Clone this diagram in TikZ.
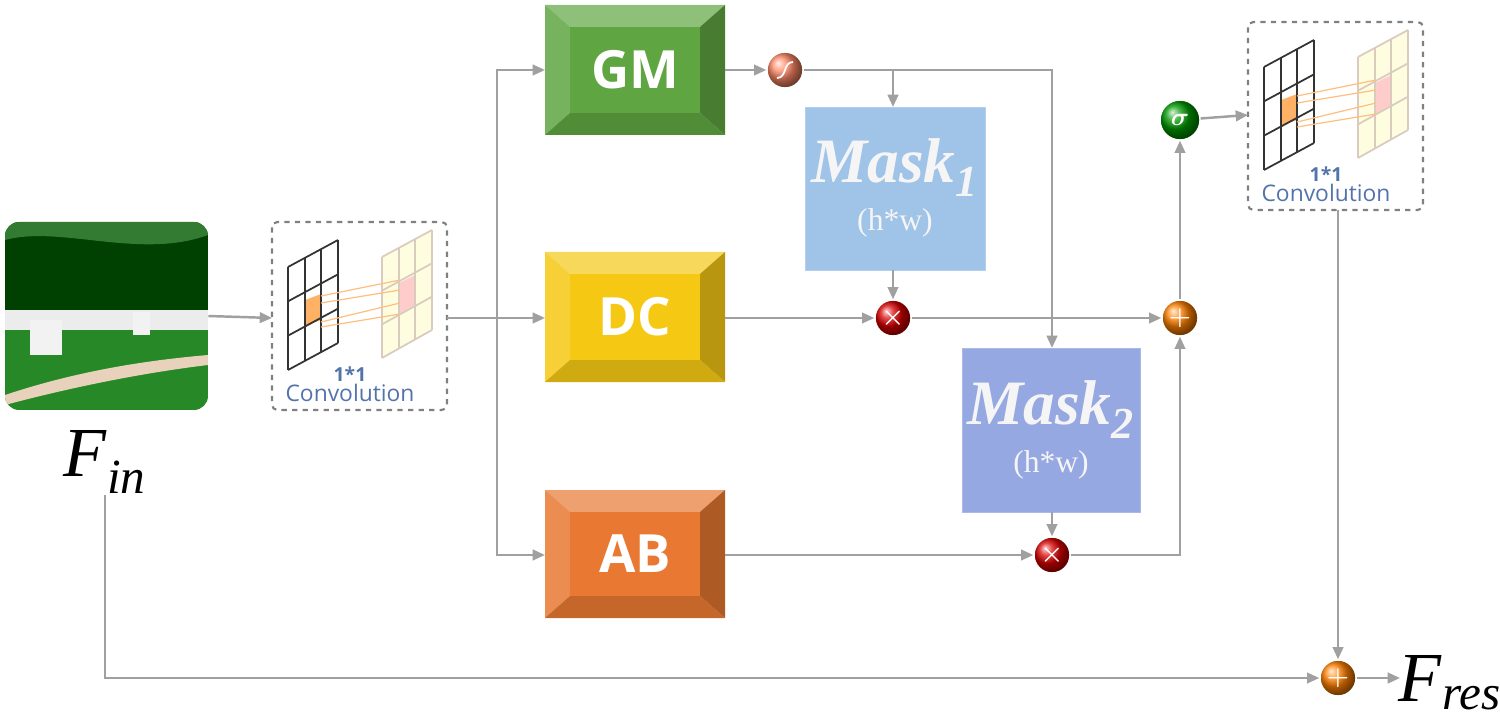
\documentclass[tikz,border=0pt]{standalone}
\usepackage{amsmath}
\usepackage{fontspec}
\setmainfont{Liberation Serif}
\newfontfamily\sansf{Open Sans}
\usetikzlibrary{arrows.meta,calc}
\definecolor{ln}{RGB}{160,160,160}
\definecolor{convblue}{RGB}{40,80,150}
\definecolor{gmc}{RGB}{95,165,65}
\definecolor{dcc}{RGB}{245,200,20}
\definecolor{abc}{RGB}{232,120,50}
\definecolor{mk1}{RGB}{160,195,232}
\definecolor{mk2}{RGB}{150,168,225}
\tikzset{
  conn/.style={draw=ln,line width=1.4pt,-{Triangle[length=7pt,width=6pt]}},
  plain/.style={draw=ln,line width=1.4pt},
  lbl/.style={font=\sansf\bfseries\fontsize{30}{30}\selectfont,text=white},
  masktxt/.style={align=center,text=white!92!gray},
  ball/.style={circle,minimum size=0.72cm,inner sep=0pt,draw=white,line width=0.8pt},
}
\newcommand{\bevbox}[7]{% name x1 y1 x2 y2 color text
  \fill[#6!35!white] (#2,#3) rectangle (#4,#5);
  \fill[#6!70!white] (#2,#3) -- (#4,#3) -- ($(#4,#3)+(-25,22)$) -- ($(#2,#3)+(25,22)$) -- cycle;
  \fill[#6!85!white] (#2,#3) -- ($(#2,#3)+(25,22)$) -- ($(#2,#5)+(25,-22)$) -- (#2,#5) -- cycle;
  \fill[#6!75!black] (#4,#3) -- ($(#4,#3)+(-25,22)$) -- ($(#4,#5)+(-25,-22)$) -- (#4,#5) -- cycle;
  \fill[#6!85!black] (#2,#5) -- ($(#2,#5)+(25,-22)$) -- ($(#4,#5)+(-25,-22)$) -- (#4,#5) -- cycle;
  \fill[#6] ($(#2,#3)+(25,22)$) rectangle ($(#4,#5)+(-25,-22)$);
  \node[lbl] (#1) at ($(#2,#3)!0.5!(#4,#5)$) {#7};
}
\newcommand{\convfig}[3]{% name dx dy
  \begin{scope}[shift={(#2,#3)}]
  \draw[draw=gray,dashed,line width=1.2pt,rounded corners=3pt] (272,222) rectangle (447,410);
  \node[inner sep=0pt] (#1) at (359.5,316) {};
  \fill[orange!60] (305,300) -- (321,294) -- (321,320) -- (305,326) -- cycle;
  \foreach \i in {0,1,2,3}{
    \draw[black!80,line width=1pt] ($(288,267)!\i/3!(288,370)$) -- ($(338,240)!\i/3!(338,343)$);
    \draw[black!80,line width=1pt] ($(288,267)!\i/3!(338,240)$) -- ($(288,370)!\i/3!(338,343)$);}
  \fill[yellow!12] (382,257) -- (432,230) -- (432,330) -- (382,358) -- cycle;
  \fill[red!20] (399,283) -- (415,275) -- (415,306) -- (399,315) -- cycle;
  \foreach \i in {0,1,2,3}{
    \draw[orange!25!gray!40,line width=1pt] ($(382,257)!\i/3!(382,358)$) -- ($(432,230)!\i/3!(432,330)$);
    \draw[orange!25!gray!40,line width=1pt] ($(382,257)!\i/3!(432,230)$) -- ($(382,358)!\i/3!(432,330)$);}
  \foreach \a/\b in {296/280,303/290,322/303,327/314}{
    \draw[orange!50,line width=0.7pt] (321,\a) -- (400,\b);}
  \node[text=convblue!80!white,font=\sansf\bfseries\fontsize{11}{11}\selectfont] at (350,374) {1*1};
  \node[text=convblue!80!white,font=\sansf\fontsize{13}{13}\selectfont] at (350,393) {Convolution};
  \end{scope}
}
\begin{document}
\begin{tikzpicture}[x=0.02cm,y=-0.02cm]
\useasboundingbox (0,0) rectangle (1500,719);
% photo
\begin{scope}
\clip[rounded corners=8pt] (5,222) rectangle (208,410);
\fill[green!25!black] (5,222) rectangle (208,315);
\fill[green!35!black!80] (5,240) .. controls (60,225) and (140,260) .. (208,235) -- (208,222) -- (5,222) -- cycle;
\fill[gray!15] (5,310) rectangle (208,330);
\fill[green!45!black!85] (5,330) rectangle (208,410);
\fill[brown!35!white] (5,395) .. controls (80,370) and (150,360) .. (208,355) -- (208,365) .. controls (150,372) and (80,385) .. (5,405) -- cycle;
\fill[white!90!gray] (30,320) rectangle (62,355);
\fill[white!90!gray] (133,312) rectangle (150,335);
\end{scope}
\node (photo) at (106.5,316) [minimum width=4.06cm,minimum height=3.76cm,inner sep=0pt] {};
\node (fin) at (105,462) {\fontsize{40}{40}\selectfont\textit{F}\textsubscript{\textit{in}}};
\convfig{conva}{0}{0}
\convfig{convb}{976}{-200}
\bevbox{gm}{545}{5}{725}{135}{gmc}{GM}
\bevbox{dc}{545}{252}{725}{382}{dcc}{DC}
\bevbox{ab}{545}{490}{725}{618}{abc}{AB}
% masks
\fill[mk1,draw=mk1!80!white] (805,107) rectangle (985,270);
\node[masktxt] (m1) at (895,188) {\fontsize{36}{36}\selectfont\bfseries\itshape Mask\textsubscript{1}\\[6pt]\fontsize{18}{18}\selectfont (h*w)};
\fill[mk2,draw=mk2!80!white] (962,348) rectangle (1140,512);
\node[masktxt] (m2) at (1051,430) {\fontsize{36}{36}\selectfont\bfseries\itshape Mask\textsubscript{2}\\[6pt]\fontsize{18}{18}\selectfont (h*w)};
\coordinate (m1t) at (893,107); \coordinate (m1b) at (893,270);
\coordinate (m2t) at (1052,348); \coordinate (m2b) at (1052,512);
% balls
\node[ball,ball color=orange!45!red!60!white] (sg) at (785,70) {};
\draw[white,line width=1pt] (777,78) .. controls (787,78) and (783,62) .. (793,62);
\node[ball,ball color=red!85!black] (x1) at (893,318) {\color{white}\Large$\boldsymbol\times$};
\node[ball,ball color=red!85!black] (x2) at (1052,555) {\color{white}\Large$\boldsymbol\times$};
\node[ball,ball color=orange] (p1) at (1180,318) {\color{white}\Large$\boldsymbol+$};
\node[ball,ball color=orange] (p3) at (1338,678) {\color{white}\Large$\boldsymbol+$};
\node[ball,ball color=green!60!black,minimum size=0.8cm] (sig) at (1180,120) {\color{white}\Large$\boldsymbol\sigma$};
\node (fres) at (1450,683) {\fontsize{40}{40}\selectfont\textit{F}\textsubscript{\textit{res}}};
% connectors
\draw[conn] (photo.east) -- (272,318);
\coordinate (sp) at (497,318);
\draw[plain] (447,318) -- (sp);
\draw[conn] (sp) -- (545,318);
\draw[conn] (sp) |- (545,70);
\draw[conn] (sp) |- (545,555);
\draw[conn] (725,70) -- (sg);
\coordinate (br) at (893,70);
\draw[plain] (sg) -- (br);
\draw[conn] (br) -- (m1t);
\draw[conn] (br) -- (1052,70) -- (m2t);
\draw[conn] (m1b) -- (x1);
\draw[conn] (m2b) -- (x2);
\draw[conn] (725,318) -- (x1);
\draw[conn] (x1) -- (p1);
\draw[conn] (725,555) -- (x2);
\draw[conn] (x2) -| (p1);
\draw[conn] (p1) -- (sig);
\draw[conn] (sig) -- (1248,115);
\draw[conn] (1338,210) -- (p3);
\draw[conn] (105,495) |- (p3);
\draw[conn] (p3) -- (1400,678);
\end{tikzpicture}
\end{document}
